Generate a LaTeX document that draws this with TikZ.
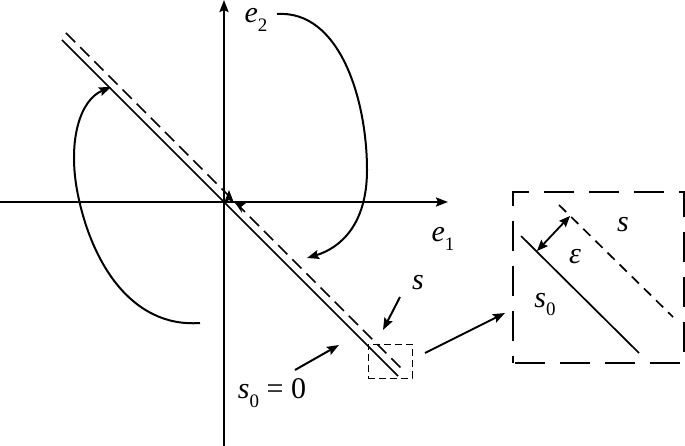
\documentclass[tikz,border=0pt]{standalone}
\usepackage{fontspec}
\setmainfont{Liberation Serif}
\usetikzlibrary{arrows.meta}
\newcommand{\sbs}[1]{\raisebox{-0.3em}{\upshape\fontsize{19}{21}\selectfont #1}}
\tikzset{
  tip/.style={-{Stealth[length=12pt,width=9pt,inset=2pt]}},
  axis/.style={line width=2.2pt,tip},
  curve/.style={line width=2pt},
  lbl/.style={font=\fontsize{30}{34}\selectfont\itshape, inner sep=0pt},
}
\begin{document}
\begin{tikzpicture}[x=1pt,y=-1pt]
\useasboundingbox (0,0) rectangle (685,446);
% axes
\coordinate (O) at (224,202);
\coordinate (xl) at (0,202);
\coordinate (xr) at (448,202);
\coordinate (yb) at (224,446);
\coordinate (yt) at (224,0);
\draw[axis] (xl) -- (xr);
\draw[axis] (yb) -- (yt);
\node[lbl, anchor=base] (e1) at (443,242) {e\sbs{1}};
\node[lbl, anchor=base] (e2) at (256,23) {e\sbs{2}};
% sliding lines
\coordinate (sa) at (62,40);
\coordinate (sb) at (398,376);
\coordinate (da) at (66,33);
\coordinate (db) at (404,371);
\draw[line width=1.7pt] (sa) -- (sb);
\draw[line width=1.7pt, dash pattern=on 13pt off 7pt] (da) -- (db);
% small arrowheads near origin
\fill (229,190) -- (224,203) -- (229,200) -- (234,203) -- cycle;
\fill (234,201) -- (246,203) -- (241,207) -- (242,213) -- cycle;
% left curve
\draw[curve, tip] (200,323) .. controls (130,328) and (90,260) .. (77,190) .. controls (68,140) and (80,100) .. (111,87);
% right curve
\draw[curve, tip] (277,14) .. controls (340,10) and (367,100) .. (367,170) .. controls (367,225) and (340,248) .. (307,258);
% small dashed box
\node[draw, dash pattern=on 7pt off 4pt, line width=1pt, minimum width=44pt, minimum height=34pt, inner sep=0pt] (sbox) at (390,361) {};
% labels s and s0=0
\node[lbl, anchor=base] (s) at (418,289) {s};
\coordinate (sa1) at (400,297);
\coordinate (sa2) at (383,330);
\draw[curve, tip] (sa1) -- (sa2);
\node[lbl, anchor=base] (s00) at (272,398) {s\sbs{0}\upshape\ = 0};
\coordinate (s0a1) at (295,370);
\coordinate (s0a2) at (339,345);
\draw[curve, tip] (s0a1) -- (s0a2);
% zoom box
\node[draw, line width=2.4pt, dash pattern=on 30pt off 15pt, dash phase=-2pt, minimum width=171pt, minimum height=171pt, inner sep=0pt] (bigbox) at (598.5,277.5) {};
\coordinate (za1) at (425,353);
\coordinate (za2) at (505,313);
\draw[curve, tip] (za1) -- (za2);
% inside zoom box
\coordinate (ia) at (521,236);
\coordinate (ib) at (639,353);
\coordinate (ic) at (559,205);
\coordinate (id) at (673,317);
\draw[line width=1.7pt] (ia) -- (ib);
\draw[line width=1.7pt, dash pattern=on 10pt off 7pt] (ic) -- (id);
\coordinate (ea) at (537,251);
\coordinate (eb) at (570,216);
\draw[line width=1.8pt, {Stealth[length=11pt,width=9pt,inset=1.5pt]}-{Stealth[length=11pt,width=9pt,inset=1.5pt]}] (ea) -- (eb);
\node[lbl, anchor=base] (eps) at (575,264) {ε};
\node[lbl, anchor=base] (sin) at (623,232) {s};
\node[lbl, anchor=base] (s0in) at (545,307) {s\sbs{0}};
\end{tikzpicture}
\end{document}
